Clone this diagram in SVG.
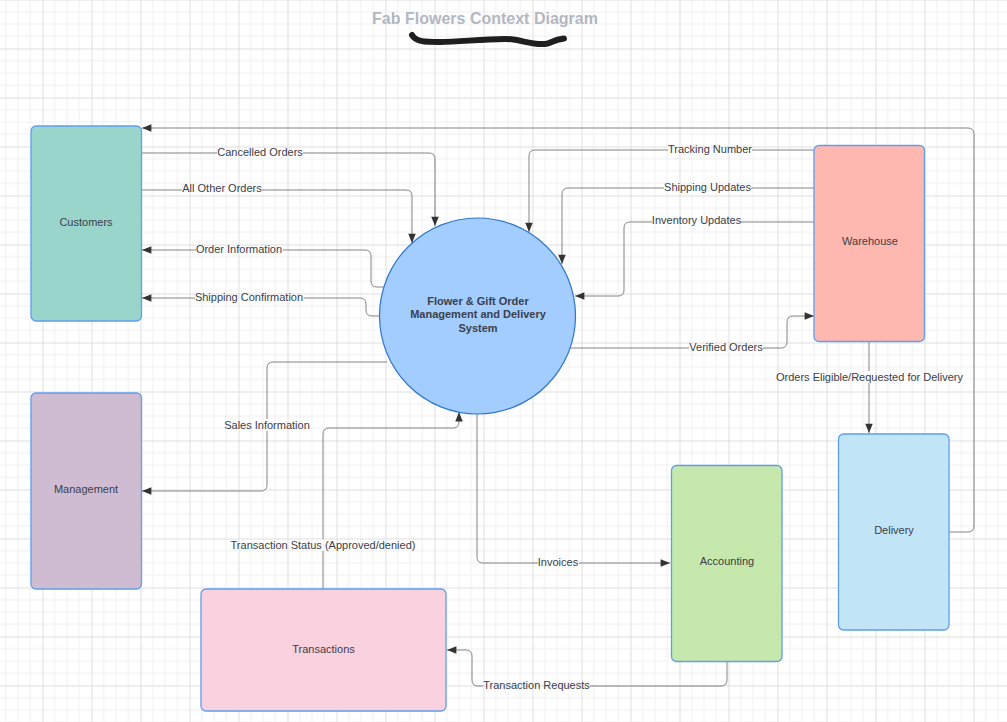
<svg xmlns="http://www.w3.org/2000/svg" width="1007" height="722" viewBox="0 0 1007 722">
<style>
.n{stroke:#5f9fee;stroke-width:1.3}
.c{fill:none;stroke:#777;stroke-width:.9;marker-end:url(#a)}
.t{font-family:"Liberation Sans",Arial,sans-serif;font-size:11px;fill:#3a404a;text-anchor:middle}
.l{fill:url(#g)}
</style>
<defs>
<marker id="a" viewBox="0 0 10 8" refX="10" refY="4" markerWidth="10" markerHeight="7.500" markerUnits="userSpaceOnUse" orient="auto"><path d="M0 0L10 4L0 8Z" fill="#333"/></marker>
<pattern id="g" x="42.5" y="-0.5" width="49" height="49" patternUnits="userSpaceOnUse">
<rect width="49" height="49" fill="#fff"/>
<path d="M12.25 0V49M24.5 0V49M36.75 0V49M0 12.25H49M0 24.5H49M0 36.75H49" stroke="#f0f0f0" stroke-width="1" fill="none"/>
<path d="M0.5 0V49M0 0.5H49" stroke="#dedede" stroke-width="1" fill="none"/>
</pattern>
</defs>
<rect width="1007" height="722" fill="url(#g)"/>
<text x="485" y="24" text-anchor="middle" font-family="'Liberation Sans',Arial,sans-serif" font-size="16" font-weight="bold" fill="#b2b7c2">Fab Flowers Context Diagram</text>
<path d="M412 35C416 42 425 42 440 42C460 42 480 39 505 39C520 39 530 45 545 44C552 43 552 40 564 38.500" fill="none" stroke="#1e1e1e" stroke-width="6" stroke-linecap="round"/>
<g id="connectors">
<path class="c" d="M142 153H429Q435 153 435 159V226"/>
<path class="c" d="M142 190H406Q412 190 412 196V243"/>
<path class="c" d="M385 287H377Q371 287 371 281V256Q371 250 365 250H142"/>
<path class="c" d="M380 316H372Q366 316 366 310V304Q366 298 360 298H142"/>
<path class="c" d="M387 362H273Q267 362 267 368V485Q267 491 261 491H142"/>
<path class="c" d="M323 589V434Q323 428 329 428H453Q459 428 459 422V412"/>
<path class="c" d="M477 414V557Q477 563 483 563H670"/>
<path class="c" d="M814 150H535Q529 150 529 156V232"/>
<path class="c" d="M814 188H568Q562 188 562 194V264"/>
<path class="c" d="M814 222H630Q624 222 624 228V290Q624 296 618 296H575"/>
<path class="c" d="M570 348H781Q787 348 787 342V322Q787 316 793 316H814"/>
<path class="c" d="M869 341V433"/>
<path class="c" d="M949 532H968Q974 532 974 526V134Q974 128 968 128H142"/>
<path class="c" d="M727 661V680Q727 686 721 686H478Q472 686 472 680V656Q472 650 466 650H447"/>
</g>
<g id="customers"><rect class="n" x="31" y="126" width="110.500" height="195" rx="5" fill="#99d5ca"/><text class="t" x="86" y="226">Customers</text></g>
<g id="management"><rect class="n" x="31" y="393" width="110.500" height="196" rx="5" fill="#cfbcd2"/><text class="t" x="86" y="493">Management</text></g>
<g id="transactions"><rect class="n" x="201" y="589" width="245" height="122" rx="5" fill="#fad1de"/><text class="t" x="323.500" y="653">Transactions</text></g>
<g id="accounting"><rect class="n" x="671.500" y="465.500" width="110.500" height="196" rx="5" fill="#c7e8ac"/><text class="t" x="727" y="565">Accounting</text></g>
<g id="delivery"><rect class="n" x="838.500" y="434" width="110.500" height="196" rx="5" fill="#c1e4f7"/><text class="t" x="894" y="534">Delivery</text></g>
<g id="warehouse"><rect class="n" x="814" y="145.500" width="110.500" height="196" rx="5" fill="#ffb8b0"/><text class="t" x="870" y="245">Warehouse</text></g>
<g id="system"><circle cx="477.500" cy="316" r="98" fill="#a3ccff" stroke="#2f76cc" stroke-width="1.2"/>
<text class="t" font-weight="bold"><tspan x="478" y="305">Flower &amp; Gift Order</tspan><tspan x="478" y="318">Management and Delivery</tspan><tspan x="478" y="332">System</tspan></text></g>
<g id="labels">
<rect class="l" x="217" y="147" width="86" height="12"/><text class="t" x="260" y="156">Cancelled Orders</text>
<rect class="l" x="182" y="183" width="80" height="12"/><text class="t" x="222" y="192">All Other Orders</text>
<rect class="l" x="196" y="244" width="87" height="12"/><text class="t" x="239" y="253">Order Information</text>
<rect class="l" x="195" y="292" width="109" height="12"/><text class="t" x="249" y="301">Shipping Confirmation</text>
<rect class="l" x="224" y="419" width="86" height="12"/><text class="t" x="267" y="429">Sales Information</text>
<rect class="l" x="231" y="539" width="184" height="12"/><text class="t" x="323" y="549">Transaction Status (Approved/denied)</text>
<rect class="l" x="538" y="557" width="41" height="12"/><text class="t" x="558" y="566">Invoices</text>
<rect class="l" x="668" y="143" width="84" height="12"/><text class="t" x="710" y="153">Tracking Number</text>
<rect class="l" x="664" y="181" width="87" height="12"/><text class="t" x="707.500" y="191">Shipping Updates</text>
<rect class="l" x="652" y="214" width="89" height="12"/><text class="t" x="696.500" y="224">Inventory Updates</text>
<rect class="l" x="689" y="341" width="74" height="12"/><text class="t" x="726" y="351">Verified Orders</text>
<rect class="l" x="776" y="371" width="187" height="12"/><text class="t" x="869.500" y="381">Orders Eligible/Requested for Delivery</text>
<rect class="l" x="483" y="680" width="107" height="12"/><text class="t" x="536.500" y="689">Transaction Requests</text>
</g>
</svg>
